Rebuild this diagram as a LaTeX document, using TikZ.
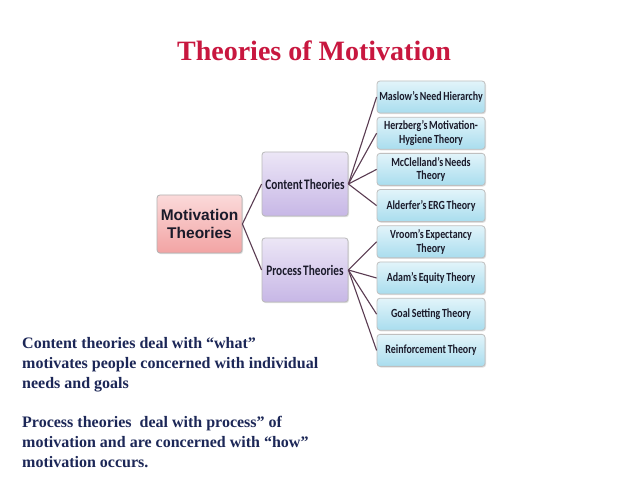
\documentclass[tikz,border=0pt]{standalone}
\usepackage{fontspec}
\setmainfont{Liberation Serif}
\newfontfamily\leaffont[FakeStretch=0.8,WordSpace=0.75]{Carlito}
\newfontfamily\midfont[FakeStretch=0.78,WordSpace=0.6]{Carlito}
\newfontfamily\bigsans{Liberation Sans}
\usetikzlibrary{shadows}
\definecolor{titlered}{HTML}{C8173F}
\definecolor{navy}{HTML}{1C2757}
\definecolor{linkcol}{HTML}{5A3C52}
\definecolor{pinktop}{HTML}{FBDADA}
\definecolor{pinkbot}{HTML}{F2A3A3}
\definecolor{lavtop}{HTML}{ECE6F6}
\definecolor{lavbot}{HTML}{C7B7E6}
\definecolor{cyantop}{HTML}{E2F4FA}
\definecolor{cyanbot}{HTML}{A9DDEE}
\definecolor{boxtext}{HTML}{1A1A2A}
\tikzset{
  basebox/.style={rounded corners=3pt, draw=#1, line width=0.8pt, align=center,
    text=boxtext, inner sep=2pt,
    drop shadow={opacity=0.25, shadow xshift=1pt, shadow yshift=-1.2pt}},
  rootbox/.style={basebox=gray!60, top color=pinktop, bottom color=pinkbot,
    minimum width=85pt, minimum height=58pt,
    font=\bigsans\bfseries\fontsize{15.5}{18}\selectfont},
  midbox/.style={basebox=gray!55, top color=lavtop, bottom color=lavbot,
    minimum width=86pt, minimum height=64pt,
    font=\midfont\bfseries\fontsize{14.5}{16}\selectfont},
  leafbox/.style={basebox=gray!50, top color=cyantop, bottom color=cyanbot,
    minimum width=108pt, minimum height=32pt,
    font=\leaffont\bfseries\fontsize{12.4}{13.5}\selectfont},
  link/.style={draw=linkcol, line width=1.1pt},
  note/.style={anchor=north west, align=left, text=navy,
    font=\bfseries\fontsize{16}{20}\selectfont, inner sep=0pt}
}
\begin{document}
\begin{tikzpicture}[x=1pt,y=-1pt]
\useasboundingbox (0,0) rectangle (638,478);
\fill[white] (0,0) rectangle (638,478);
\node[text=titlered, font=\bfseries\fontsize{28}{32}\selectfont] (title) at (314,51) {Theories of Motivation};

\node[rootbox] (root) at (199.5,224) {Motivation\\Theories};
\node[midbox] (content) at (305,184) {Content Theories};
\node[midbox] (process) at (305,270) {Process Theories};

\node[leafbox] (l1) at (431,97) {Maslow’s Need Hierarchy};
\node[leafbox] (l2) at (431,133.2) {Herzberg’s Motivation-\\Hygiene Theory};
\node[leafbox] (l3) at (431,169.4) {McClelland’s Needs\\Theory};
\node[leafbox] (l4) at (431,205.6) {Alderfer’s ERG Theory};
\node[leafbox] (l5) at (431,241.8) {Vroom’s Expectancy\\Theory};
\node[leafbox] (l6) at (431,278) {Adam’s Equity Theory};
\node[leafbox] (l7) at (431,314.2) {Goal Setting Theory};
\node[leafbox] (l8) at (431,350.4) {Reinforcement Theory};

\draw[link] (root.east) -- (content.west);
\draw[link] (root.east) -- (process.west);
\foreach \n in {l1,l2,l3,l4} \draw[link] (content.east) -- (\n.west);
\foreach \n in {l5,l6,l7,l8} \draw[link] (process.east) -- (\n.west);

\node[note] (n1) at (22,337) {Content theories deal with “what”\\motivates people concerned with individual\\needs and goals};
\node[note] (n2) at (22,416) {Process theories\ \ deal with process” of\\motivation and are concerned with “how”\\motivation occurs.};
\end{tikzpicture}
\end{document}
